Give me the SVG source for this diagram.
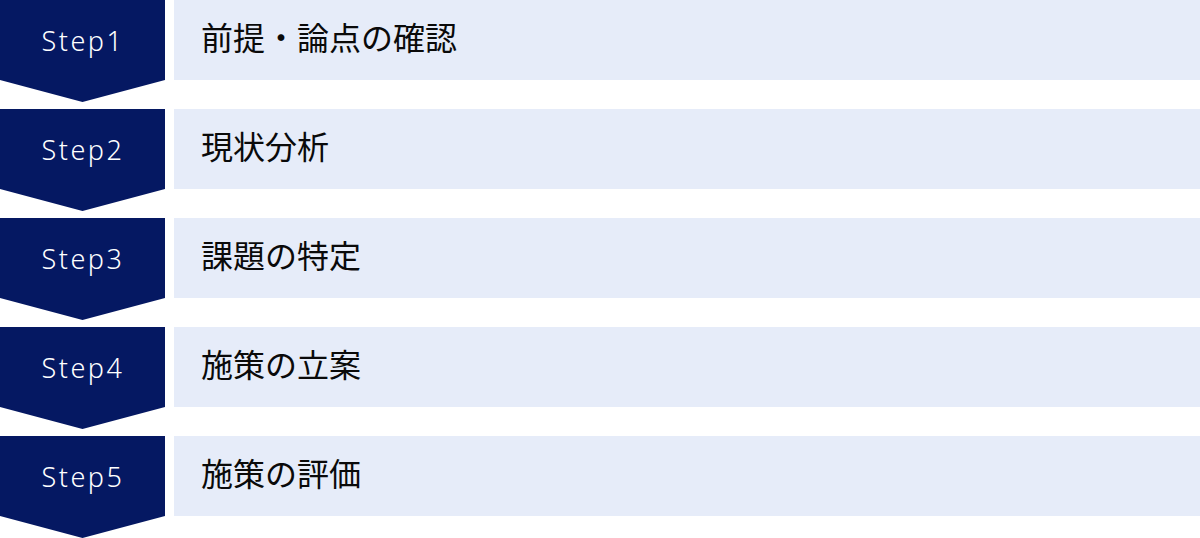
<svg xmlns="http://www.w3.org/2000/svg" width="1200" height="538" viewBox="0 0 1200 538">
<style>
.chev{fill:#051862}
.box{fill:#E6ECF9}
.st{font-family:"Noto Sans","Noto Sans CJK JP",sans-serif;font-size:27px;font-weight:300;fill:#FFFFFF;letter-spacing:2.5px;text-anchor:middle}
.lb{font-family:"Noto Sans CJK JP","Noto Sans",sans-serif;font-size:32px;font-weight:400;fill:#0A0A0A}
</style>
<defs>
<path id="chevron" d="M0,0 H165 V80 L82.5,102 L0,80 Z"/>
</defs>
<rect width="1200" height="538" fill="#FFFFFF"/>
<g id="step1" transform="translate(0,0)">
<use href="#chevron" class="chev"/>
<rect class="box" x="174" y="0" width="1026" height="80"/>
<text class="st" x="83" y="51">Step1</text>
<text class="lb" x="201" y="50">前提・論点の確認</text>
</g>
<g id="step2" transform="translate(0,109)">
<use href="#chevron" class="chev"/>
<rect class="box" x="174" y="0" width="1026" height="80"/>
<text class="st" x="83" y="51">Step2</text>
<text class="lb" x="201" y="50">現状分析</text>
</g>
<g id="step3" transform="translate(0,218)">
<use href="#chevron" class="chev"/>
<rect class="box" x="174" y="0" width="1026" height="80"/>
<text class="st" x="83" y="51">Step3</text>
<text class="lb" x="201" y="50">課題の特定</text>
</g>
<g id="step4" transform="translate(0,327)">
<use href="#chevron" class="chev"/>
<rect class="box" x="174" y="0" width="1026" height="80"/>
<text class="st" x="83" y="51">Step4</text>
<text class="lb" x="201" y="50">施策の立案</text>
</g>
<g id="step5" transform="translate(0,436)">
<use href="#chevron" class="chev"/>
<rect class="box" x="174" y="0" width="1026" height="80"/>
<text class="st" x="83" y="51">Step5</text>
<text class="lb" x="201" y="50">施策の評価</text>
</g>
<g id="connectors"></g>
</svg>
